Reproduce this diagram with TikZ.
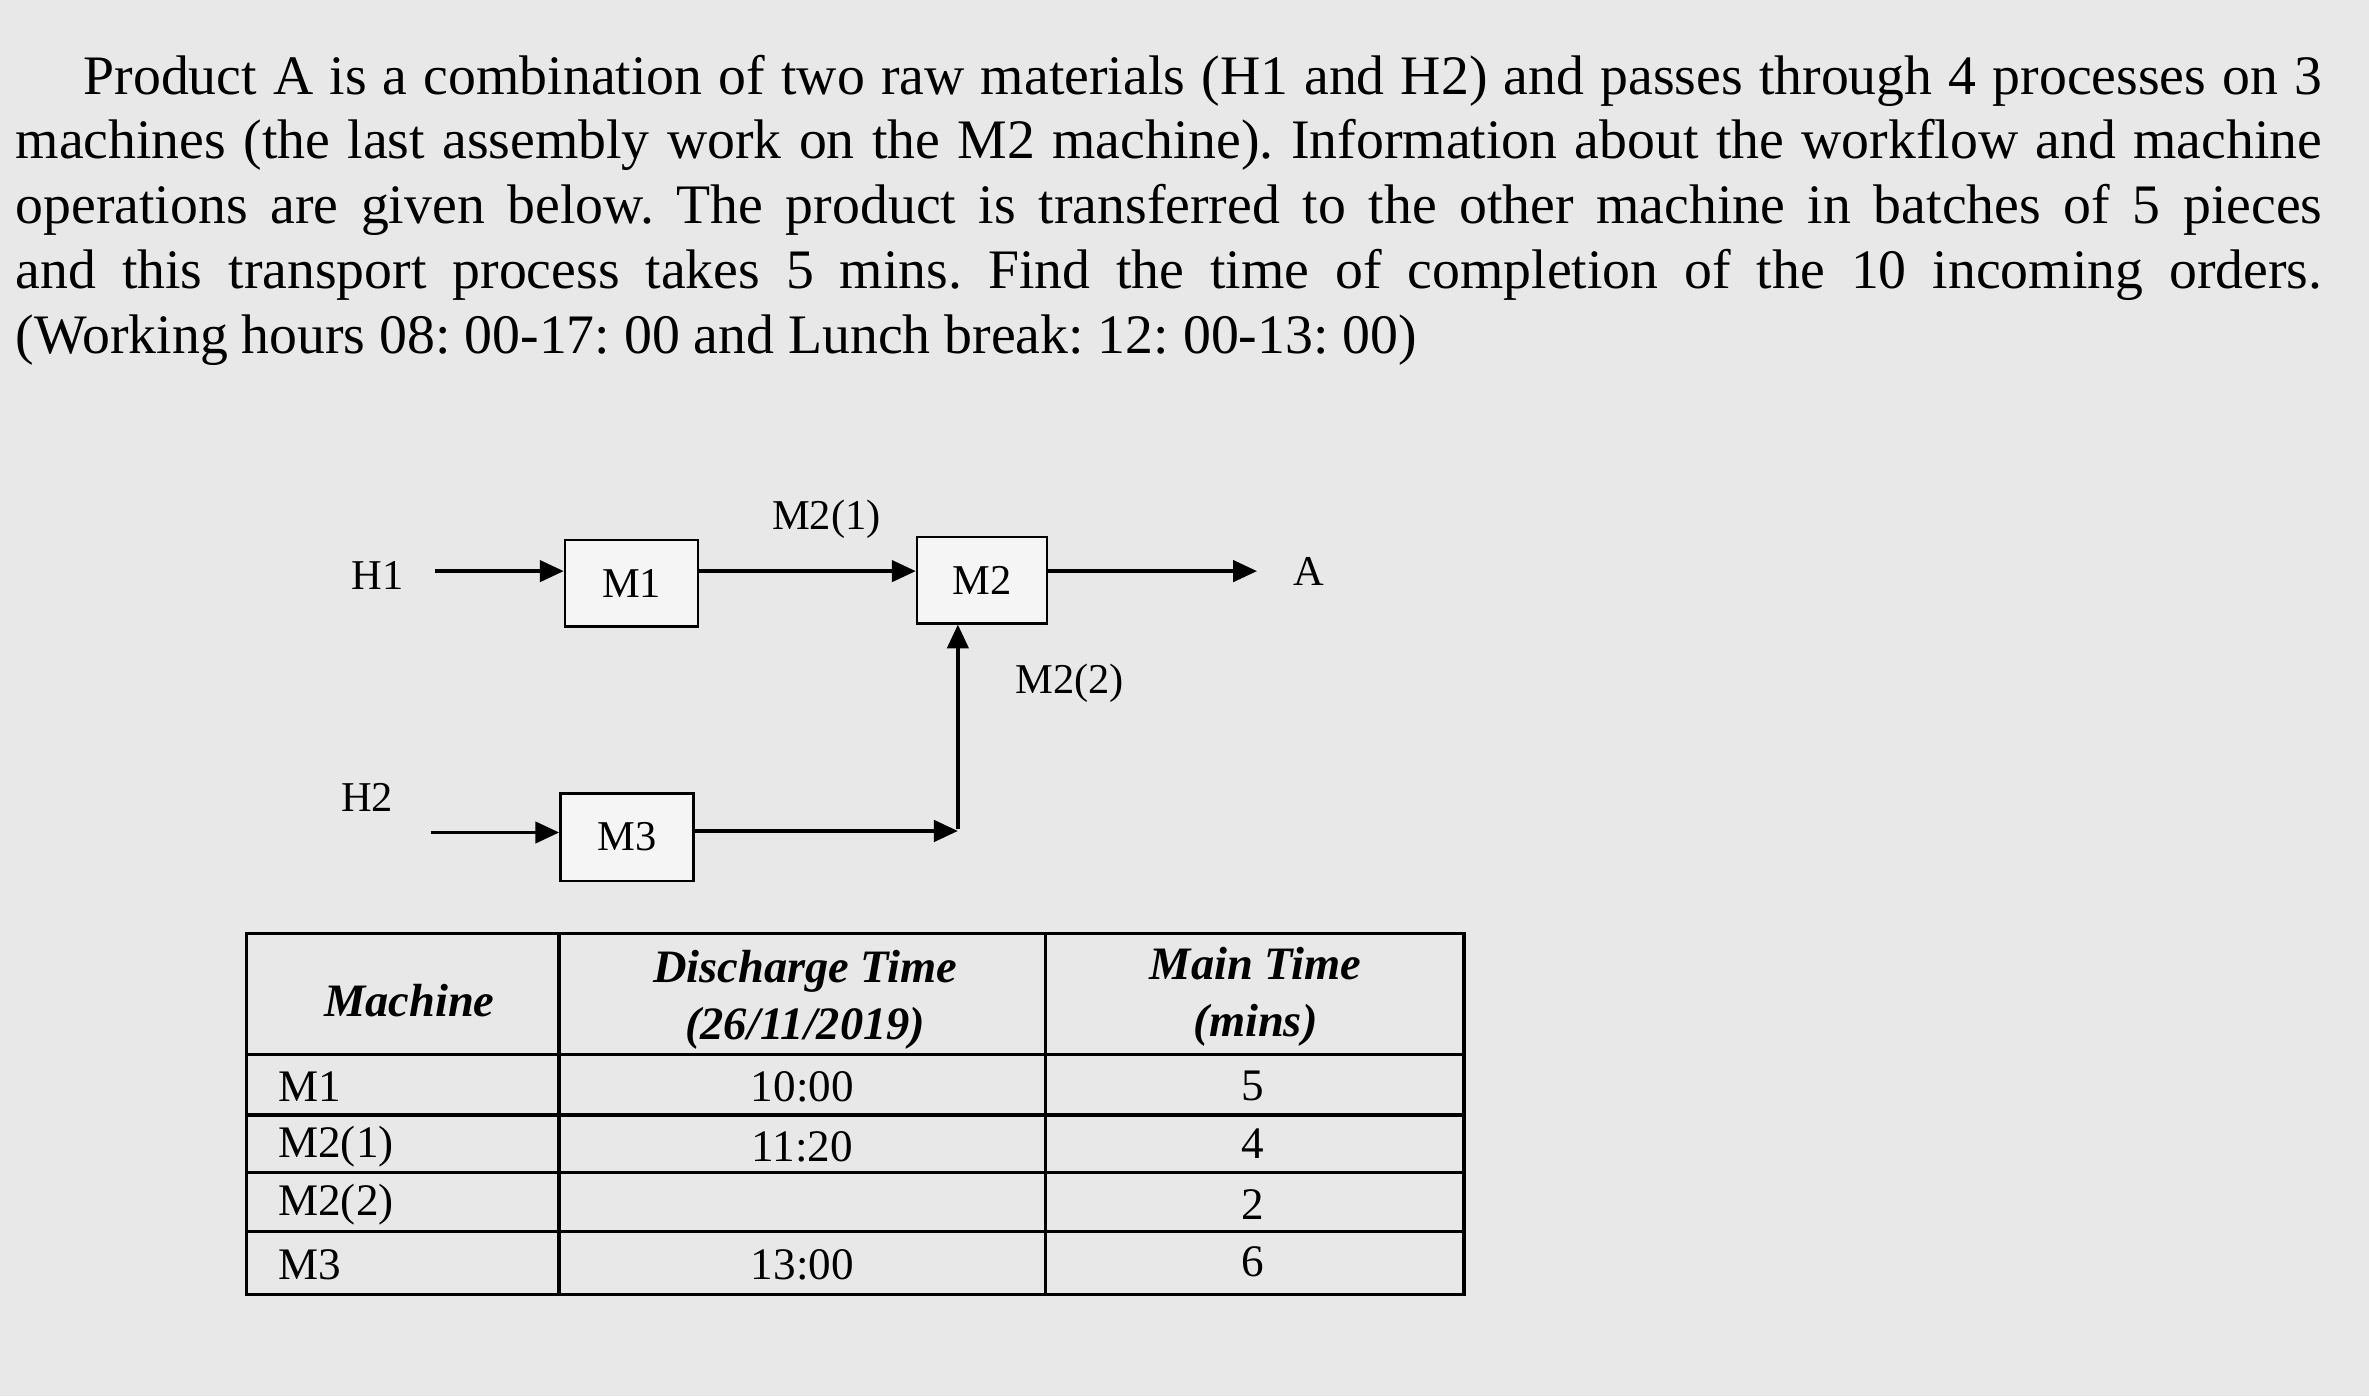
\documentclass[tikz,border=0pt]{standalone}
\usepackage{fontspec}
\setmainfont{Liberation Serif}
\usetikzlibrary{arrows.meta}
\begin{document}
\frenchspacing
\begin{tikzpicture}[x=0.02cm,y=-0.02cm,
  box/.style={draw,line width=1pt,fill=white!92!gray},
  lbl/.style={font=\fontsize{16}{19}\selectfont},
  arr/.style={line width=1.4pt,-{Triangle[length=9pt,width=8pt]}},
  tl/.style={line width=1.2pt},
  tt/.style={font=\fontsize{17}{20}\selectfont},
  th/.style={font=\fontsize{17.5}{21.5}\selectfont\bfseries\itshape,align=center}]
\useasboundingbox[fill=gray!18] (0,0) rectangle (1568,924);
\node[anchor=north west,text width=30.54cm,inner sep=0pt,align=justify,
  font=\fontsize{21}{24.4}\selectfont] (txt) at (10,36) {\hspace*{0.9cm}Product A is a combination of two raw materials (H1 and H2) and passes through 4 processes on 3\linebreak machines (the last assembly work on the M2 machine). Information about the workflow and machine\linebreak operations are given below. The product is transferred to the other machine in batches of 5 pieces\linebreak and this transport process takes 5 mins. Find the time of completion of the 10 incoming orders.\linebreak (Working hours 08: 00-17: 00 and Lunch break: 12: 00-13: 00)};
% diagram
\node[lbl] (h1) at (250,381) {H1};
\node[lbl] (h2) at (243,528) {H2};
\node[box,lbl,minimum width=1.76cm,minimum height=1.14cm] (m1) at (418,386) {M1};
\node[box,lbl,minimum width=1.72cm,minimum height=1.14cm] (m2) at (650,384) {M2};
\node[box,lbl,minimum width=1.76cm,minimum height=1.16cm] (m3) at (415,554) {M3};
\node[lbl] (a) at (866,378) {A};
\node[lbl] (l1) at (547,344) {M2(1)};
\node[lbl] (l2) at (708,452) {M2(2)};
\coordinate (h1e) at (288,378);
\coordinate (h2e) at (285,551);
\coordinate (j) at (634,550);
\coordinate (j2) at (634,549);
\coordinate (ae) at (832,378);
\draw[arr] (h1e) -- (m1.west|-h1e);
\draw[arr] (m1.east|-h1e) -- (m2.west|-h1e);
\draw[arr] (m2.east|-h1e) -- (ae);
\draw[arr] (h2e) -- (m3.west|-h2e);
\draw[arr] (m3.east|-j) -- (j);
\draw[arr] (j2) -- (j2|-m2.south);
% table
\draw[tl] (163,618) rectangle (969,857);
\draw[tl] (370,618) -- (370,857) (692,618) -- (692,857);
\foreach \y in {698,738,776,815} \draw[tl] (163,\y) -- (969,\y);
\node[th] (c1) at (271,662) {Machine};
\node[th] (c2) at (533,662) {Discharge Time\\(26/11/2019)};
\node[th] (c3) at (831,660) {Main Time\\(mins)};
\node[tt,anchor=west] (r1) at (178,719) {M1};
\node[tt,anchor=west] (r2) at (178,759) {M2(1)};
\node[tt,anchor=west] (r3) at (178,797) {M2(2)};
\node[tt,anchor=west] (r4) at (178,837) {M3};
\node[tt] (d1) at (531,719) {10:00};
\node[tt] (d2) at (531,759) {11:20};
\node[tt] (d4) at (531,837) {13:00};
\node[tt] (t1) at (829,719) {5};
\node[tt] (t2) at (829,757) {4};
\node[tt] (t3) at (829,797) {2};
\node[tt] (t4) at (829,835) {6};
\end{tikzpicture}
\end{document}
